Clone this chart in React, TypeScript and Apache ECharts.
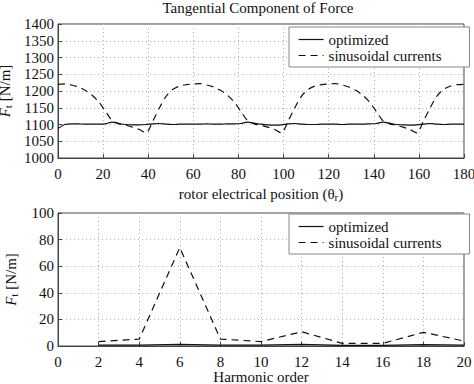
import React, { useEffect, useRef } from "react";
import * as echarts from "echarts";

const angleDeg = [
  0, 3, 6, 9, 12, 15, 18, 21, 24, 27, 30, 33, 36, 39, 42, 45, 48, 51, 54, 57,
  60, 63, 66, 69, 72, 75, 78, 81, 84, 87, 90, 93, 96, 99, 102, 105, 108, 111, 114, 117,
  120, 123, 126, 129, 132, 135, 138, 141, 144, 147, 150, 153, 156, 159, 162, 165, 168, 171, 174, 177,
  180,
];

const sinusoidalTop = [
  1220, 1221, 1218, 1212, 1202, 1188, 1168, 1140, 1112, 1102, 1098, 1092, 1085, 1075, 1110, 1150, 1185, 1205, 1215, 1219,
  1221, 1222, 1218, 1212, 1202, 1188, 1168, 1140, 1112, 1102, 1098, 1092, 1085, 1075, 1110, 1150, 1185, 1205, 1215, 1219,
  1221, 1222, 1218, 1212, 1202, 1188, 1168, 1140, 1112, 1102, 1098, 1092, 1085, 1075, 1110, 1150, 1185, 1205, 1215, 1219,
  1220,
];

const optimizedTop = [
  1088, 1100, 1102, 1102, 1101, 1101, 1101, 1102, 1107, 1103, 1100, 1099, 1099, 1100, 1102, 1103, 1101, 1100, 1101, 1101,
  1101, 1101, 1102, 1101, 1101, 1102, 1102, 1103, 1107, 1104, 1101, 1099, 1098, 1099, 1102, 1103, 1101, 1100, 1100, 1101,
  1101, 1101, 1100, 1101, 1101, 1101, 1102, 1103, 1107, 1104, 1100, 1099, 1098, 1099, 1101, 1103, 1101, 1100, 1101, 1101,
  1101,
];

const harmonicOrder = [2, 4, 6, 8, 10, 12, 14, 16, 18, 20];
const sinusoidalHarm = [3.3, 5.2, 74, 5.2, 3.3, 10.7, 2, 2, 10.3, 3.7];
const optimizedHarm = [0.6, 0.7, 1.2, 0.7, 0.6, 1.2, 0.4, 0.4, 1.1, 0.7];

const titleText = "Tangential Component of Force";
const seriesNames = ["optimized", "sinusoidal currents"];

const FONT = "Liberation Serif";

export default function App() {
  const ref = useRef<HTMLDivElement>(null);
  useEffect(() => {
    if (!ref.current) return;
    const chart = echarts.init(ref.current, null, { renderer: "svg" });

    const axisCommon = {
      axisLine: { show: true, lineStyle: { color: "#444", width: 1 } },
      axisTick: { show: true, inside: true, length: 4, lineStyle: { color: "#444" } },
      axisLabel: { color: "#111", fontFamily: FONT, fontSize: 15, fontWeight: "normal", formatter: (v: number) => String(v) },
      splitLine: { show: true, lineStyle: { color: "#b0b0b0", type: [1, 3], width: 1 } },
      nameTextStyle: { color: "#111", fontFamily: FONT, fontSize: 15, fontWeight: "normal" },
    };

    const yName = "{it|F}{sub|t} [N/m]";
    const yRich = {
      it: { fontStyle: "italic", fontFamily: FONT, fontSize: 15, color: "#111" },
      sub: { fontFamily: FONT, fontSize: 11, color: "#111", verticalAlign: "bottom", padding: [6, 0, 0, 0] },
    };

    const legendCommon = {
      orient: "vertical",
      left: 289,
      backgroundColor: "#fff",
      borderColor: "#888",
      borderWidth: 1,
      borderRadius: 0,
      padding: [5, 28, 4, 9],
      itemWidth: 25,
      itemHeight: 14,
      itemGap: 1,
      itemStyle: { opacity: 0 },
      lineStyle: { width: 1.2 },
      textStyle: { fontFamily: FONT, fontSize: 15, fontWeight: "normal", color: "#111" },
      data: seriesNames,
    };

    const lineSolid = { color: "#111", width: 1.2, type: "solid" };
    const lineDash = { color: "#111", width: 1.2, type: [7, 5] };

    const gridCommon = {
      left: 58,
      right: 10,
      show: true,
      borderColor: "#444",
      borderWidth: 1,
      backgroundColor: "transparent",
      containLabel: false,
      outerBoundsMode: "none",
    };

    chart.setOption({
      animation: false,
      backgroundColor: "#fff",
      textStyle: { fontFamily: FONT, fontSize: 15, color: "#111" },
      title: {
        text: titleText,
        left: 253,
        textAlign: "center",
        top: -5,
        textStyle: { fontFamily: FONT, fontSize: 15, fontWeight: "normal", color: "#111" },
      },
      legend: [
        { ...legendCommon, top: 27 },
        { ...legendCommon, top: 214 },
      ],
      grid: [
        { ...gridCommon, top: 24, height: 134 },
        { ...gridCommon, top: 213, height: 133 },
      ],
      xAxis: [
        {
          ...axisCommon,
          type: "value",
          gridIndex: 0,
          min: 0,
          max: 180,
          interval: 20,
          name: "rotor electrical position (θ{sub|r})",
          nameLocation: "middle",
          nameGap: 27,
          nameTextStyle: {
            ...axisCommon.nameTextStyle,
            rich: { sub: { fontFamily: FONT, fontSize: 11, color: "#111", verticalAlign: "bottom", padding: [6, 0, 0, 0] } },
          },
        },
        {
          ...axisCommon,
          type: "value",
          gridIndex: 1,
          min: 0,
          max: 20,
          interval: 2,
          name: "Harmonic order",
          nameLocation: "middle",
          nameGap: 22,
        },
      ],
      yAxis: [
        {
          ...axisCommon,
          type: "value",
          gridIndex: 0,
          min: 1000,
          max: 1400,
          interval: 50,
          name: yName,
          nameLocation: "middle",
          nameRotate: 90,
          nameGap: 39,
          nameTextStyle: { ...axisCommon.nameTextStyle, rich: yRich },
          axisLabel: { ...axisCommon.axisLabel, margin: 4 },
        },
        {
          ...axisCommon,
          type: "value",
          gridIndex: 1,
          min: 0,
          max: 100,
          interval: 20,
          name: yName,
          nameLocation: "middle",
          nameRotate: 90,
          nameGap: 39,
          nameTextStyle: { ...axisCommon.nameTextStyle, rich: yRich },
          axisLabel: { ...axisCommon.axisLabel, margin: 4 },
        },
      ],
      series: [
        {
          name: seriesNames[0],
          type: "line",
          xAxisIndex: 0,
          yAxisIndex: 0,
          symbol: "none",
          smooth: 0.3,
          lineStyle: lineSolid,
          itemStyle: { color: "#111" },
          data: angleDeg.map((a, i) => [a, optimizedTop[i]]),
        },
        {
          name: seriesNames[1],
          type: "line",
          xAxisIndex: 0,
          yAxisIndex: 0,
          symbol: "none",
          smooth: 0.3,
          lineStyle: lineDash,
          itemStyle: { color: "#111" },
          data: angleDeg.map((a, i) => [a, sinusoidalTop[i]]),
        },
        {
          name: seriesNames[0],
          type: "line",
          xAxisIndex: 1,
          yAxisIndex: 1,
          symbol: "none",
          lineStyle: lineSolid,
          itemStyle: { color: "#111" },
          data: harmonicOrder.map((h, i) => [h, optimizedHarm[i]]),
        },
        {
          name: seriesNames[1],
          type: "line",
          xAxisIndex: 1,
          yAxisIndex: 1,
          symbol: "none",
          lineStyle: lineDash,
          itemStyle: { color: "#111" },
          data: harmonicOrder.map((h, i) => [h, sinusoidalHarm[i]]),
        },
      ],
    });
    return () => chart.dispose();
  }, []);
  return <div ref={ref} style={{ position: "fixed", left: 0, top: 0, width: 474, height: 384 }} />;
}
